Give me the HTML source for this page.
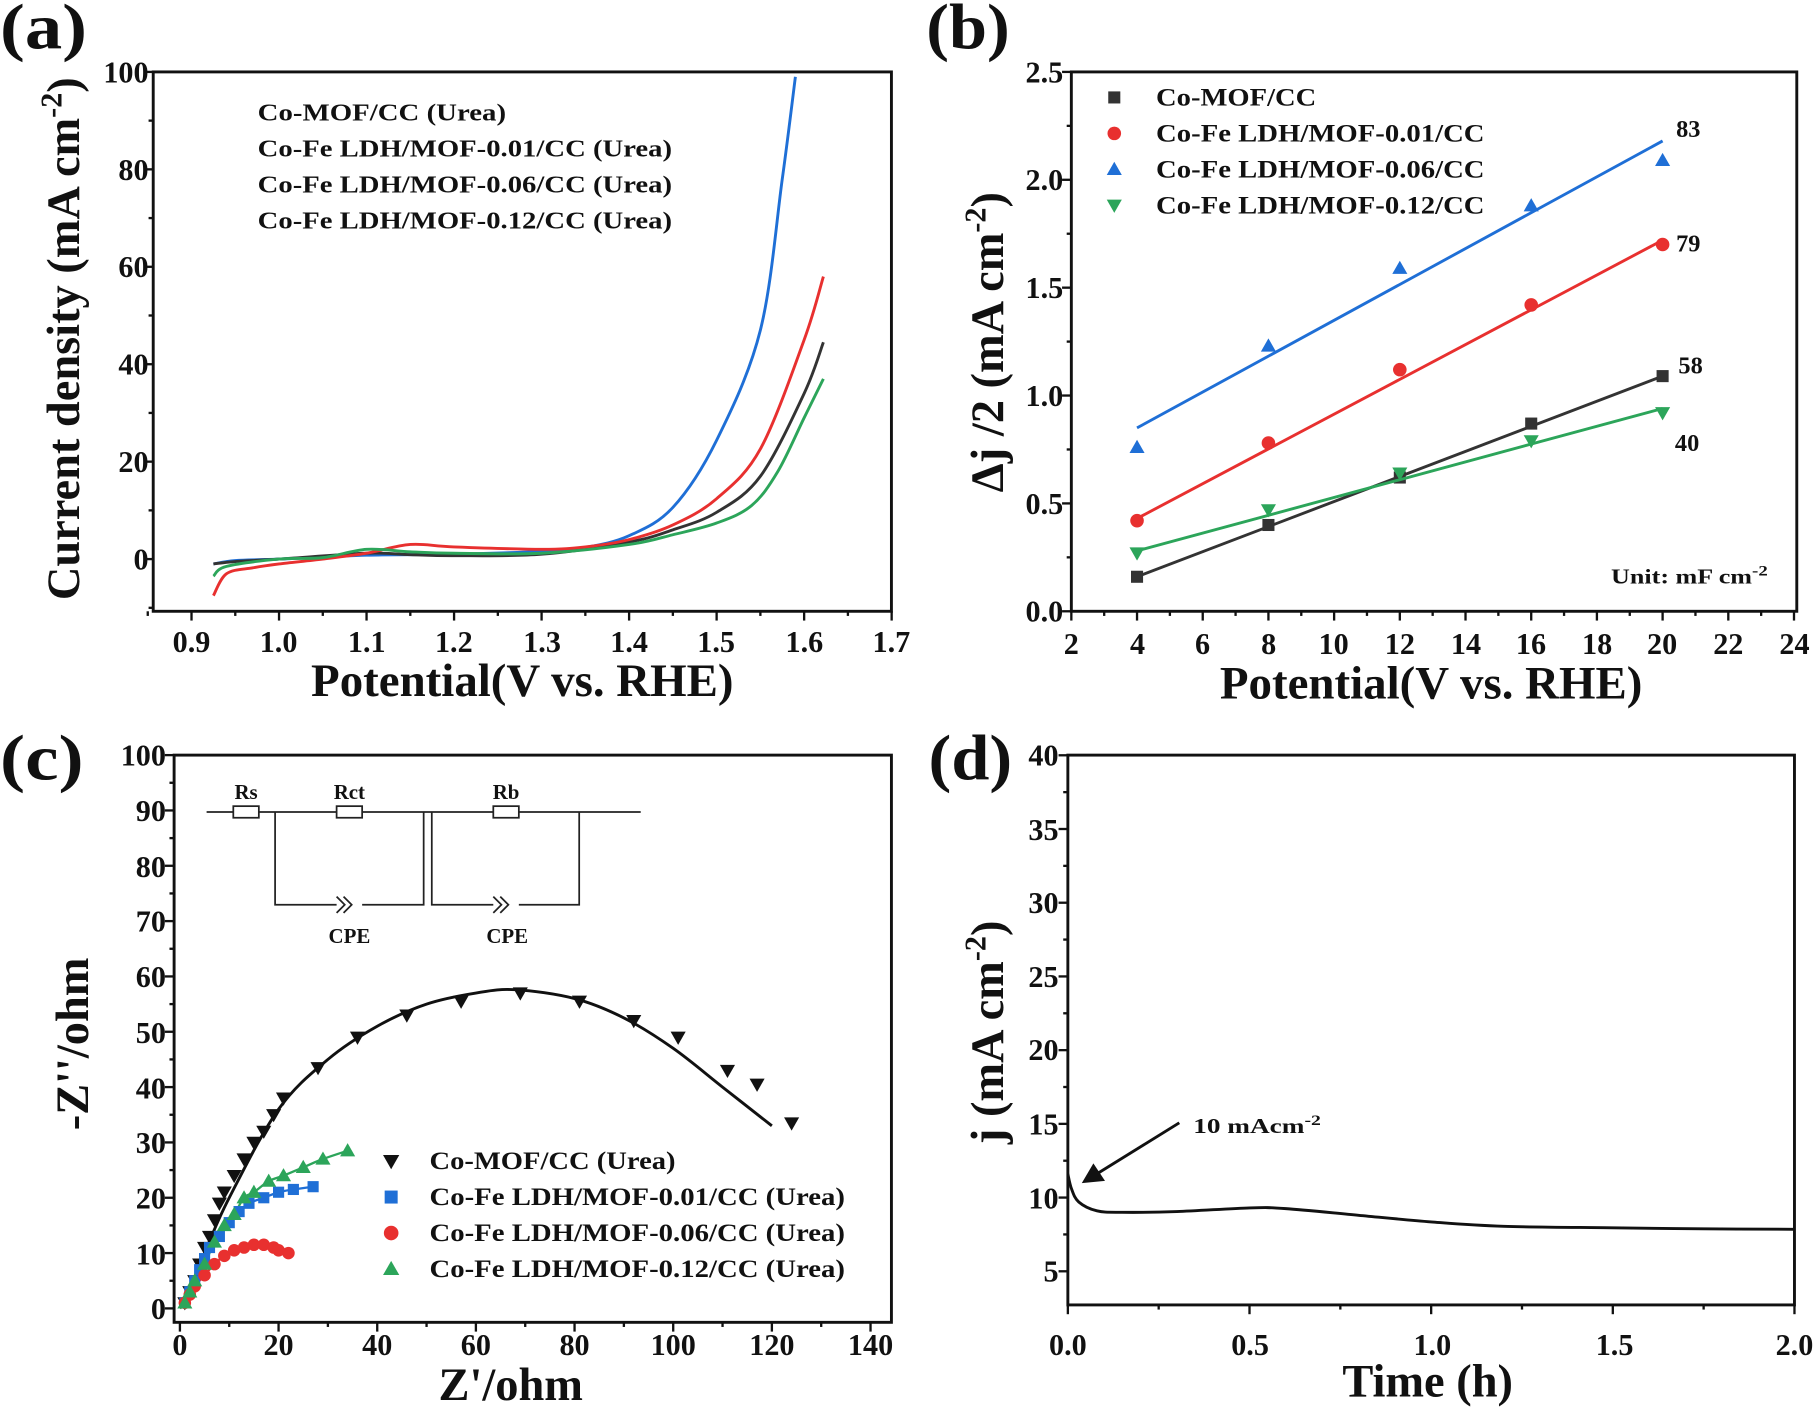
<!DOCTYPE html>
<html><head><meta charset="utf-8">
<style>
html,body{margin:0;padding:0;background:#fff;}
svg{display:block;}
text{font-family:"Liberation Serif",serif;font-weight:bold;fill:#111;}
</style></head>
<body>
<svg id="s" width="1820" height="1407" viewBox="0 0 1568 1213" preserveAspectRatio="none" xmlns="http://www.w3.org/2000/svg">
<g id="g"></g>
<!-- panel labels -->
<text x="0" y="42" font-size="56" textLength="75" lengthAdjust="spacingAndGlyphs">(a)</text>
<text x="798" y="42" font-size="56" textLength="72" lengthAdjust="spacingAndGlyphs">(b)</text>
<text x="0" y="672" font-size="56" textLength="72" lengthAdjust="spacingAndGlyphs">(c)</text>
<text x="800" y="672" font-size="56" textLength="72" lengthAdjust="spacingAndGlyphs">(d)</text>

<!-- (a) -->
<g font-size="26" text-anchor="end">
<text x="128" y="71">100</text><text x="128" y="155">80</text><text x="128" y="239">60</text><text x="128" y="323">40</text><text x="128" y="407">20</text><text x="128" y="491">0</text>
</g>
<g font-size="26" text-anchor="middle">
<text x="165" y="562">0.9</text><text x="240" y="562">1.0</text><text x="316" y="562">1.1</text><text x="391" y="562">1.2</text><text x="467" y="562">1.3</text><text x="542" y="562">1.4</text><text x="617" y="562">1.5</text><text x="693" y="562">1.6</text><text x="768" y="562">1.7</text>
</g>
<text x="450" y="600" font-size="40" text-anchor="middle" textLength="364" lengthAdjust="spacingAndGlyphs">Potential(V vs. RHE)</text>
<text transform="translate(68,292) rotate(-90)" font-size="40" text-anchor="middle">Current density (mA cm<tspan dy="-15" font-size="26">-2</tspan><tspan dy="15">)</tspan></text>
<g font-size="21">
<text x="222" y="104" textLength="214" lengthAdjust="spacingAndGlyphs">Co-MOF/CC (Urea)</text>
<text x="222" y="135" textLength="357" lengthAdjust="spacingAndGlyphs">Co-Fe LDH/MOF-0.01/CC (Urea)</text>
<text x="222" y="166" textLength="357" lengthAdjust="spacingAndGlyphs">Co-Fe LDH/MOF-0.06/CC (Urea)</text>
<text x="222" y="197" textLength="357" lengthAdjust="spacingAndGlyphs">Co-Fe LDH/MOF-0.12/CC (Urea)</text>
</g>

<!-- (b) -->
<g font-size="26" text-anchor="end">
<text x="916" y="71">2.5</text><text x="916" y="164">2.0</text><text x="916" y="257">1.5</text><text x="916" y="350">1.0</text><text x="916" y="443">0.5</text><text x="916" y="536">0.0</text>
</g>
<g font-size="26" text-anchor="middle">
<text x="923" y="564">2</text><text x="980" y="564">4</text><text x="1036" y="564">6</text><text x="1093" y="564">8</text><text x="1149" y="564">10</text><text x="1206" y="564">12</text><text x="1263" y="564">14</text><text x="1319" y="564">16</text><text x="1376" y="564">18</text><text x="1432" y="564">20</text><text x="1489" y="564">22</text><text x="1546" y="564">24</text>
</g>
<text x="1233" y="602" font-size="40" text-anchor="middle" textLength="364" lengthAdjust="spacingAndGlyphs">Potential(V vs. RHE)</text>
<text transform="translate(864,295) rotate(-90)" font-size="40" text-anchor="middle">Δj /2 (mA cm<tspan dy="-15" font-size="26">-2</tspan><tspan dy="15">)</tspan></text>
<g font-size="22">
<text x="996" y="91" textLength="138" lengthAdjust="spacingAndGlyphs">Co-MOF/CC</text>
<text x="996" y="122" textLength="283" lengthAdjust="spacingAndGlyphs">Co-Fe LDH/MOF-0.01/CC</text>
<text x="996" y="153" textLength="283" lengthAdjust="spacingAndGlyphs">Co-Fe LDH/MOF-0.06/CC</text>
<text x="996" y="184" textLength="283" lengthAdjust="spacingAndGlyphs">Co-Fe LDH/MOF-0.12/CC</text>
</g>
<g font-size="21">
<text x="1444" y="118">83</text><text x="1444" y="217">79</text><text x="1446" y="322">58</text><text x="1443" y="389">40</text>
</g>
<text x="1388" y="503" font-size="18" textLength="135" lengthAdjust="spacingAndGlyphs">Unit: mF cm<tspan dy="-7" font-size="13">-2</tspan></text>

<!-- (c) -->
<g font-size="26" text-anchor="end">
<text x="143" y="660">100</text><text x="143" y="708">90</text><text x="143" y="756">80</text><text x="143" y="803">70</text><text x="143" y="851">60</text><text x="143" y="899">50</text><text x="143" y="947">40</text><text x="143" y="994">30</text><text x="143" y="1042">20</text><text x="143" y="1090">10</text><text x="143" y="1137">0</text>
</g>
<g font-size="26" text-anchor="middle">
<text x="155" y="1168">0</text><text x="240" y="1168">20</text><text x="325" y="1168">40</text><text x="410" y="1168">60</text><text x="495" y="1168">80</text><text x="580" y="1168">100</text><text x="665" y="1168">120</text><text x="750" y="1168">140</text>
</g>
<text x="440" y="1207" font-size="40" text-anchor="middle">Z'/ohm</text>
<text transform="translate(76,900) rotate(-90)" font-size="40" text-anchor="middle">-Z''/ohm</text>
<g font-size="22">
<text x="370" y="1008" textLength="212" lengthAdjust="spacingAndGlyphs">Co-MOF/CC (Urea)</text>
<text x="370" y="1039" textLength="358" lengthAdjust="spacingAndGlyphs">Co-Fe LDH/MOF-0.01/CC (Urea)</text>
<text x="370" y="1070" textLength="358" lengthAdjust="spacingAndGlyphs">Co-Fe LDH/MOF-0.06/CC (Urea)</text>
<text x="370" y="1101" textLength="358" lengthAdjust="spacingAndGlyphs">Co-Fe LDH/MOF-0.12/CC (Urea)</text>
</g>
<!-- circuit -->
<g stroke="#222" stroke-width="1.5" fill="none">
<line x1="178" y1="700" x2="552" y2="700"/>
<rect x="201" y="695" width="22" height="10" fill="#fff"/>
<rect x="290" y="695" width="22" height="10" fill="#fff"/>
<rect x="425" y="695" width="22" height="10" fill="#fff"/>
<polyline points="237,700 237,780 290,780"/>
<polyline points="312,780 365,780 365,700"/>
<polyline points="372,700 372,780 425,780"/>
<polyline points="447,780 499,780 499,700"/>
<polyline points="290,773 297,780 290,787"/><polyline points="296,773 303,780 296,787"/>
<polyline points="425,773 432,780 425,787"/><polyline points="431,773 438,780 431,787"/>
</g>
<g font-size="18" text-anchor="middle">
<text x="212" y="689">Rs</text><text x="301" y="689">Rct</text><text x="436" y="689">Rb</text>
<text x="301" y="813">CPE</text><text x="437" y="813">CPE</text>
</g>

<!-- (d) -->
<g font-size="26" text-anchor="end">
<text x="912" y="660">40</text><text x="912" y="724">35</text><text x="912" y="787">30</text><text x="912" y="851">25</text><text x="912" y="914">20</text><text x="912" y="978">15</text><text x="912" y="1042">10</text><text x="912" y="1105">5</text>
</g>
<g font-size="26" text-anchor="middle">
<text x="920" y="1168">0.0</text><text x="1077" y="1168">0.5</text><text x="1234" y="1168">1.0</text><text x="1391" y="1168">1.5</text><text x="1546" y="1168">2.0</text>
</g>
<text x="1230" y="1204" font-size="40" text-anchor="middle">Time (h)</text>
<text transform="translate(864,890) rotate(-90)" font-size="40" text-anchor="middle">j (mA cm<tspan dy="-15" font-size="26">-2</tspan><tspan dy="15">)</tspan></text>
<text x="1028" y="977" font-size="18" textLength="110" lengthAdjust="spacingAndGlyphs">10 mAcm<tspan dy="-7" font-size="13">-2</tspan></text>
<line x1="1016" y1="968" x2="945" y2="1012" stroke="#111" stroke-width="2.5"/>
<polygon points="932,1020 942,1003 952,1018" fill="#111"/>
</svg>
<script>
var NS="http://www.w3.org/2000/svg",G=document.getElementById('g');
function el(t,a){var e=document.createElementNS(NS,t);for(var k in a)e.setAttribute(k,a[k]);G.appendChild(e);return e;}
function box(x0,x1,y0,y1){el('rect',{x:x0,y:y0,width:x1-x0,height:y1-y0,fill:'none',stroke:'#111','stroke-width':2.5});}
function xt(X,vals,y){vals.forEach(function(v){el('line',{x1:X(v[0]),x2:X(v[0]),y1:y,y2:y+(v[1]?8:4),stroke:'#111','stroke-width':2});});}
function yt(Y,vals,x){vals.forEach(function(v){el('line',{x1:x,x2:x-(v[1]?8:4),y1:Y(v[0]),y2:Y(v[0]),stroke:'#111','stroke-width':2});});}
function rng(a,b,st,maj){var r=[];for(var v=a;v<=b+1e-9;v+=st){var m=Math.abs(Math.round(v/maj)*maj-v)<1e-6;r.push([v,m]);}return r;}
function spline(pts,X,Y){
 var P=pts.map(function(p){return [X(p[0]),Y(p[1])];});var d='M'+P[0][0]+','+P[0][1];
 for(var i=0;i<P.length-1;i++){var p0=P[i-1]||P[i],p1=P[i],p2=P[i+1],p3=P[i+2]||p2;
 d+=' C'+(p1[0]+(p2[0]-p0[0])/6)+','+(p1[1]+(p2[1]-p0[1])/6)+' '+(p2[0]-(p3[0]-p1[0])/6)+','+(p2[1]-(p3[1]-p1[1])/6)+' '+p2[0]+','+p2[1];}
 return d;}
function curve(pts,X,Y,c,w){el('path',{d:spline(pts,X,Y),fill:'none',stroke:c,'stroke-width':w||2.5});}
function mk(type,x,y,c,s){s=s||7;
 if(type=='sq')el('rect',{x:x-s*0.8,y:y-s*0.8,width:s*1.6,height:s*1.6,fill:c});
 else if(type=='ci')el('circle',{cx:x,cy:y,r:s*0.9,fill:c});
 else if(type=='up')el('polygon',{points:(x)+','+(y-s)+' '+(x-s)+','+(y+s*0.75)+' '+(x+s)+','+(y+s*0.75),fill:c});
 else el('polygon',{points:(x)+','+(y+s)+' '+(x-s)+','+(y-s*0.75)+' '+(x+s)+','+(y-s*0.75),fill:c});}
var K='#333',R='#e8302f',B='#1f6fd6',Gr='#2ca55a';
// (a)
(function(){var X=function(v){return 165+(v-0.9)*754},Y=function(v){return 482-v*4.2};
box(132,768,62,527);xt(X,rng(0.85,1.7,0.05,0.1),527);yt(Y,rng(-10,100,10,20),132);
curve([[0.925,-1],[0.95,-0.3],[1.0,0],[1.1,0.8],[1.2,1],[1.3,1.6],[1.35,2.4],[1.4,4.8],[1.45,10.6],[1.5,24.4],[1.55,47],[1.575,78],[1.59,99]],X,Y,B);
curve([[0.925,-1],[0.95,-0.5],[1.0,0],[1.1,1.2],[1.15,0.9],[1.2,0.7],[1.3,1],[1.4,3.5],[1.45,6],[1.5,9.6],[1.55,17],[1.6,34],[1.622,44.5]],X,Y,K);
curve([[0.925,-7.5],[0.94,-3],[0.97,-1.8],[1.0,-1],[1.05,0],[1.1,1.2],[1.15,3],[1.2,2.5],[1.3,2],[1.35,2.5],[1.4,4],[1.45,7],[1.5,12.4],[1.55,22.6],[1.6,45],[1.622,58]],X,Y,R);
curve([[0.925,-3.5],[0.94,-1.5],[1.0,0],[1.05,0.3],[1.1,2],[1.15,1.5],[1.2,1.2],[1.3,1.2],[1.4,3],[1.45,5],[1.5,7.4],[1.54,11],[1.57,18],[1.6,29],[1.622,37]],X,Y,Gr);
})();
// (b)
(function(){var X=function(v){return 923+(v-2)*28.3},Y=function(v){return 527-v*186};
box(923,1548,62,527);xt(X,rng(2,24,1,2),527);yt(Y,rng(0,2.5,0.25,0.5),923);
var S=[[K,'sq',[0.16,0.40,0.62,0.87,1.09],0.16,1.09],[R,'ci',[0.42,0.78,1.12,1.42,1.70],0.43,1.72],[B,'up',[0.76,1.23,1.59,1.88,2.09],0.85,2.18],[Gr,'dn',[0.27,0.47,0.64,0.79,0.92],0.28,0.94]];
S.forEach(function(s,i){el('line',{x1:X(4),y1:Y(s[3]),x2:X(20),y2:Y(s[4]),stroke:s[0],'stroke-width':2.5});
[4,8,12,16,20].forEach(function(x,j){mk(s[1],X(x),Y(s[2][j]),s[0],6.5);});
mk(s[1],960,84+31*i,s[0],6.5);});
})();
// (c)
(function(){var X=function(v){return 155+v*4.25},Y=function(v){return 1128-v*4.77};
box(150,768,651,1140);xt(X,rng(0,140,10,20),1140);yt(Y,rng(0,100,5,10),150);
curve([[0,0],[2,3],[5,10],[10,20],[20,36],[30,45],[40,51],[50,55],[60,57],[68,57.6],[80,56],[90,52.5],[100,47],[110,40],[120,33]],X,Y,'#111',2.5);
var bk=[[1,1],[2,3],[3,5],[4,8],[5,11],[6,13],[7,16],[8,19],[9,21],[11,24],[13,27],[15,30],[17,32],[19,35],[21,38],[28,43.5],[36,49],[46,53],[57,55.5],[69,57],[81,55.5],[92,52],[101,49],[111,43],[117,40.5],[124,33.5]];
var bl=[[1,1],[2,3],[3,5],[4,7],[5,9],[6,11],[8,13],[10,15.5],[12,17.5],[14,19],[17,20],[20,21],[23,21.5],[27,22]];
var rd=[[1,1],[2,2.5],[3,4],[5,6],[7,8],[9,9.5],[11,10.5],[13,11],[15,11.5],[17,11.5],[19,11],[20,10.5],[22,10]];
var gn=[[1,1],[2,3],[3,5],[5,8],[7,12],[9,15],[11,17],[13,20],[15,21],[18,23],[21,24],[25,25.5],[29,27],[34,28.5]];
curve([[0,0]].concat(bl),X,Y,B,2);curve([[0,0]].concat(rd),X,Y,R,2);curve([[0,0]].concat(gn),X,Y,Gr,2);
bk.forEach(function(p){mk('dn',X(p[0]),Y(p[1]),'#111',6.5)});
bl.forEach(function(p){mk('sq',X(p[0]),Y(p[1]),B,6)});
rd.forEach(function(p){mk('ci',X(p[0]),Y(p[1]),R,6)});
gn.forEach(function(p){mk('up',X(p[0]),Y(p[1]),Gr,6.5)});
mk('dn',337,1001,'#111',7);mk('sq',337,1032,B,7);mk('ci',337,1063,R,7);mk('up',337,1094,Gr,7);
})();
// (d)
(function(){var X=function(v){return 920+v*313},Y=function(v){return 1096-(v-5)*12.71};
box(920,1546,651,1125);xt(X,rng(0,2,0.25,0.5),1125);yt(Y,rng(5,40,2.5,5),920);
curve([[0,11.6],[0.01,10.6],[0.03,9.7],[0.08,9.1],[0.15,9.0],[0.3,9.05],[0.5,9.3],[0.6,9.25],[0.8,8.8],[1.0,8.35],[1.2,8.05],[1.5,7.95],[1.75,7.88],[2.0,7.85]],X,Y,'#111',2.5);
})();
</script>
</body></html>
